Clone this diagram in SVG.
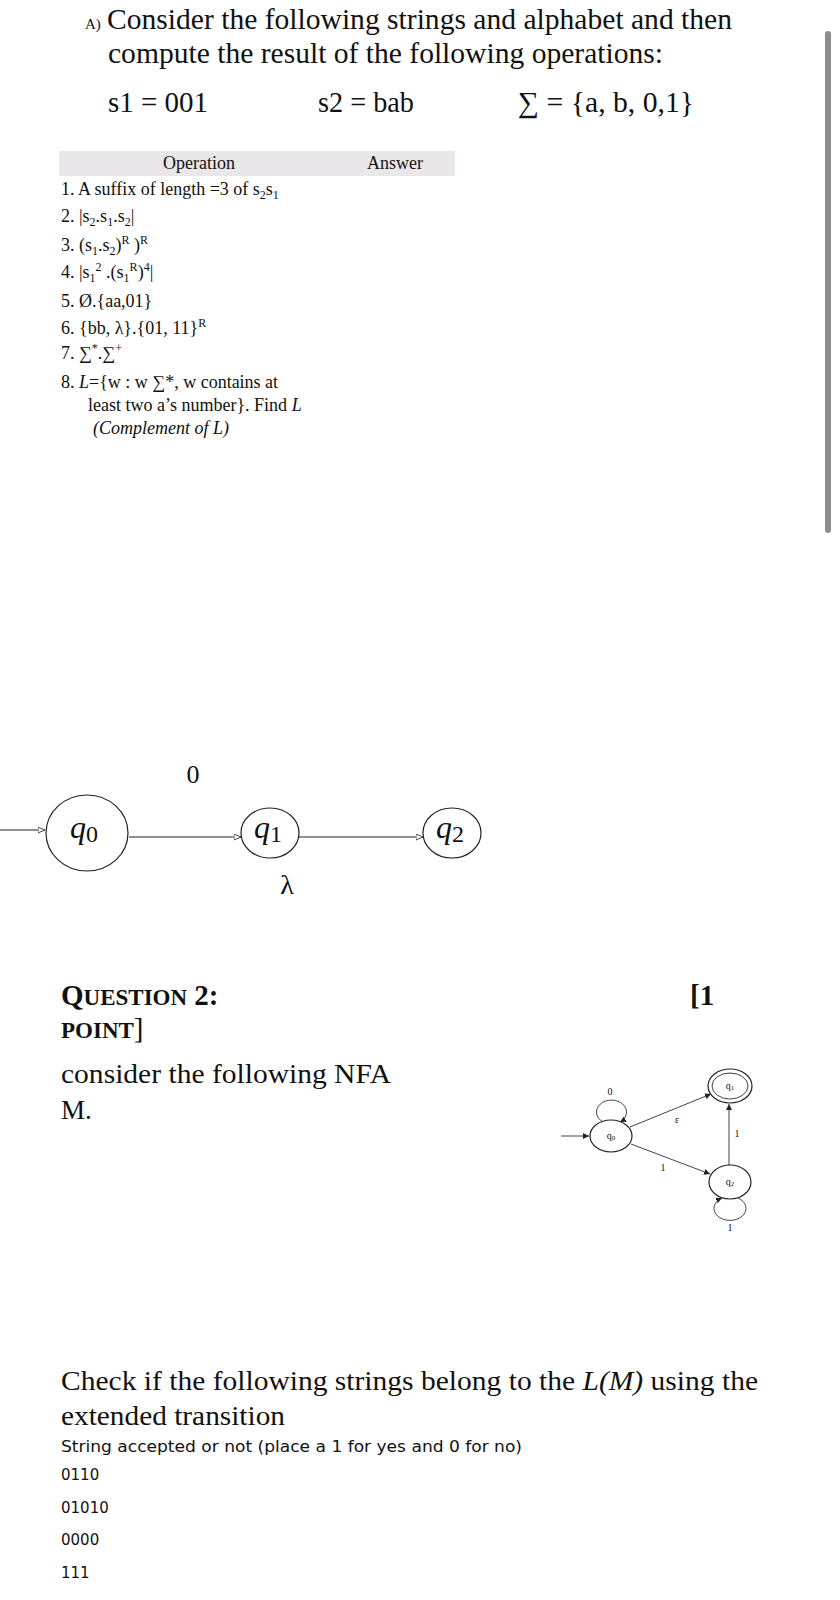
<svg xmlns="http://www.w3.org/2000/svg" width="840" height="1600" viewBox="0 0 840 1600">
<style>
.s{font-family:"Liberation Serif","Times New Roman",serif;fill:#111}
.m{font-family:"DejaVu Sans",Verdana,sans-serif;fill:#111}
.n{fill:#fff;stroke:#222;stroke-width:1.2}
.e{fill:none;stroke:#222;stroke-width:1.2}
.f{fill:none;stroke:#444;stroke-width:1}
</style>
<defs>
<marker id="oa" markerWidth="8" markerHeight="8" refX="7" refY="3" orient="auto" markerUnits="userSpaceOnUse"><path d="M0,0 L7,3 L0,6 Z" fill="#fff" stroke="#222" stroke-width="0.8"/></marker>
<marker id="fa" markerWidth="7" markerHeight="6" refX="6" refY="3" orient="auto" markerUnits="userSpaceOnUse"><path d="M0,0 L6,3 L0,6 Z" fill="#222"/></marker>
</defs>
<rect x="0" y="0" width="840" height="1600" fill="#fff"/>
<rect x="825" y="31" width="6" height="502" rx="3" fill="#8c8c8c"/>

<g id="header">
<text class="s" x="85" y="29" font-size="15">A)</text>
<text class="s" x="107" y="29" font-size="29" textLength="625" lengthAdjust="spacingAndGlyphs">Consider the following strings and alphabet and then</text>
<text class="s" x="108" y="63" font-size="29" textLength="555" lengthAdjust="spacingAndGlyphs">compute the result of the following operations:</text>
<text class="s" x="108" y="112" font-size="29" textLength="100" lengthAdjust="spacingAndGlyphs">s1 = 001</text>
<text class="s" x="318" y="112" font-size="29" textLength="96" lengthAdjust="spacingAndGlyphs">s2 = bab</text>
<text class="s" x="518" y="112" font-size="29" textLength="176" lengthAdjust="spacingAndGlyphs">∑ = {a, b, 0,1}</text>
</g>

<g id="table">
<rect x="59" y="151" width="396" height="25" fill="#e9e7ea"/>
<text class="s" x="199" y="169" font-size="18" text-anchor="middle">Operation</text>
<text class="s" x="367" y="169" font-size="18">Answer</text>
<text class="s" x="61" y="195" font-size="18">1. A suffix of length =3 of s<tspan font-size="12" dy="4">2</tspan><tspan dy="-4">s</tspan><tspan font-size="12" dy="4">1</tspan></text>
<text class="s" x="61" y="222" font-size="18">2. |s<tspan font-size="12" dy="4">2</tspan><tspan dy="-4">.s</tspan><tspan font-size="12" dy="4">1</tspan><tspan dy="-4">.s</tspan><tspan font-size="12" dy="4">2</tspan><tspan dy="-4">|</tspan></text>
<text class="s" x="61" y="251" font-size="18">3. (s<tspan font-size="12" dy="4">1</tspan><tspan dy="-4">.s</tspan><tspan font-size="12" dy="4">2</tspan><tspan dy="-4">)</tspan><tspan font-size="12" dy="-7">R</tspan><tspan dy="7"> )</tspan><tspan font-size="12" dy="-7">R</tspan></text>
<text class="s" x="61" y="278" font-size="18">4. |s<tspan font-size="12" dy="4">1</tspan><tspan font-size="12" dy="-11">2</tspan><tspan dy="7"> .(s</tspan><tspan font-size="12" dy="4">1</tspan><tspan font-size="12" dy="-11">R</tspan><tspan dy="7">)</tspan><tspan font-size="12" dy="-7">4</tspan><tspan dy="7">|</tspan></text>
<text class="s" x="61" y="307" font-size="18">5. Ø.{aa,01}</text>
<text class="s" x="61" y="334" font-size="18">6. {bb, λ}.{01, 11}<tspan font-size="12" dy="-7">R</tspan></text>
<text class="s" x="61" y="359" font-size="18">7. ∑<tspan font-size="12" dy="-7">*</tspan><tspan dy="7">.∑</tspan><tspan font-size="12" dy="-7">+</tspan></text>
<text class="s" x="61" y="388" font-size="18">8. <tspan font-style="italic">L</tspan>={w : w ∑*, w contains at</text>
<text class="s" x="88" y="411" font-size="18">least two a’s number}. Find  <tspan font-style="italic">L</tspan></text>
<text class="s" x="93" y="434" font-size="18" font-style="italic">(Complement of L)</text>
</g>

<g id="dfa-connectors">
<line class="e" x1="0" y1="830" x2="45" y2="830" marker-end="url(#oa)"/>
<line class="e" x1="129" y1="837" x2="241" y2="837" marker-end="url(#oa)"/>
<line class="e" x1="299" y1="837" x2="423" y2="837" marker-end="url(#oa)"/>
<text class="s" x="193" y="783" font-size="26" text-anchor="middle">0</text>
<text class="s" x="287" y="894" font-size="28" text-anchor="middle">λ</text>
</g>
<g id="dfa-q0"><ellipse class="n" cx="87" cy="833" rx="41" ry="38"/><text class="s" x="70" y="838" font-size="32" font-style="italic">q<tspan font-style="normal" font-size="24" dy="4">0</tspan></text></g>
<g id="dfa-q1"><ellipse class="n" cx="270" cy="833" rx="29" ry="25"/><text class="s" x="254" y="838" font-size="32" font-style="italic">q<tspan font-style="normal" font-size="24" dy="4">1</tspan></text></g>
<g id="dfa-q2"><ellipse class="n" cx="452" cy="833" rx="29" ry="25"/><text class="s" x="436" y="838" font-size="32" font-style="italic">q<tspan font-style="normal" font-size="24" dy="4">2</tspan></text></g>

<g id="question2">
<text class="s" x="61" y="1005" font-size="29" font-weight="bold">Q<tspan font-size="23">UESTION</tspan> 2:</text>
<text class="s" x="690" y="1005" font-size="29" font-weight="bold">[1</text>
<text class="s" x="61" y="1038" font-size="23" font-weight="bold">POINT<tspan font-size="29" font-weight="normal">]</tspan></text>
<text class="s" x="61" y="1083" font-size="27" textLength="330" lengthAdjust="spacingAndGlyphs">consider the following NFA</text>
<text class="s" x="61" y="1119" font-size="27">M.</text>
</g>

<g id="nfa-connectors">
<line class="f" x1="561" y1="1136" x2="589" y2="1136" marker-end="url(#fa)"/>
<path class="f" d="M603,1122 A15,12 0 1,1 620,1122" marker-end="url(#fa)"/>
<line class="f" x1="630" y1="1127" x2="711" y2="1094" marker-end="url(#fa)"/>
<line class="f" x1="631" y1="1144" x2="710" y2="1174" marker-end="url(#fa)"/>
<line class="f" x1="729" y1="1165" x2="729" y2="1104" marker-end="url(#fa)"/>
<path class="f" d="M738,1198 A16,12 0 1,1 722,1198" marker-end="url(#fa)"/>
<text class="s" x="610" y="1095" font-size="10" text-anchor="middle">0</text>
<text class="s" x="677" y="1123" font-size="10" text-anchor="middle">ε</text>
<text class="s" x="663" y="1171" font-size="10" text-anchor="middle">1</text>
<text class="s" x="737" y="1137" font-size="10" text-anchor="middle">1</text>
<text class="s" x="730" y="1231" font-size="10" text-anchor="middle">1</text>
</g>
<g id="nfa-q0"><ellipse class="n" cx="611" cy="1136" rx="21" ry="16"/><text class="s" x="611" y="1139" font-size="10" text-anchor="middle">q<tspan font-size="7" dy="1">0</tspan></text></g>
<g id="nfa-q1"><ellipse class="n" cx="730" cy="1086" rx="22" ry="17"/><ellipse class="f" cx="730" cy="1086" rx="18" ry="13"/><text class="s" x="730" y="1089" font-size="10" text-anchor="middle">q<tspan font-size="7" dy="1">1</tspan></text></g>
<g id="nfa-q2"><ellipse class="n" cx="730" cy="1182" rx="21" ry="17"/><text class="s" x="730" y="1185" font-size="10" text-anchor="middle">q<tspan font-size="7" dy="1">2</tspan></text></g>

<g id="check">
<text class="s" x="61" y="1390" font-size="27" textLength="697" lengthAdjust="spacingAndGlyphs">Check if the following strings belong to the <tspan font-style="italic">L(M)</tspan> using the</text>
<text class="s" x="61" y="1425" font-size="27" textLength="224" lengthAdjust="spacingAndGlyphs">extended transition</text>
<text class="m" x="61" y="1452" font-size="15" textLength="461" lengthAdjust="spacingAndGlyphs">String accepted or not (place a 1 for yes and 0 for no)</text>
<text class="m" x="61" y="1480" font-size="15">0110</text>
<text class="m" x="61" y="1513" font-size="15">01010</text>
<text class="m" x="61" y="1545" font-size="15">0000</text>
<text class="m" x="61" y="1578" font-size="15">111</text>
</g>
</svg>
